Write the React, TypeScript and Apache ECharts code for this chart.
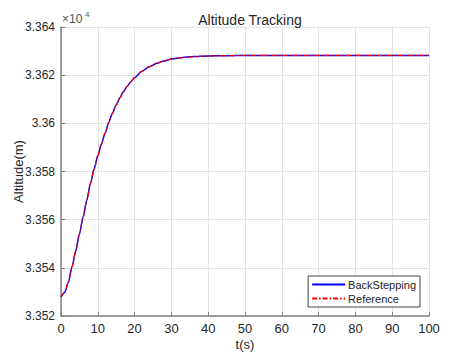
import React, { useEffect, useRef } from "react";
import * as echarts from "echarts";

const timeSeconds = [0, 1, 2, 3, 4, 5, 6, 7, 8, 9, 10, 11, 12, 13, 14, 15, 16, 17, 18, 19, 20, 22, 24, 26, 28, 30, 33, 36, 40, 45, 50, 60, 70, 80, 90, 100];
const backStepping = [33528, 33529.8, 33534, 33540.5, 33547, 33554, 33561, 33568, 33575, 33581, 33586.5, 33591.5, 33596, 33600.5, 33604.3, 33607.6, 33610.6, 33613.2, 33615.4, 33617.3, 33619, 33621.6, 33623.5, 33624.9, 33625.9, 33626.7, 33627.3, 33627.7, 33628, 33628.1, 33628.2, 33628.2, 33628.2, 33628.2, 33628.2, 33628.2];
const reference = [33528, 33529.8, 33534, 33540.5, 33547, 33554, 33561, 33568, 33575, 33581, 33586.5, 33591.5, 33596, 33600.5, 33604.3, 33607.6, 33610.6, 33613.2, 33615.4, 33617.3, 33619, 33621.6, 33623.5, 33624.9, 33625.9, 33626.7, 33627.3, 33627.7, 33628, 33628.1, 33628.2, 33628.2, 33628.2, 33628.2, 33628.2, 33628.2];

const FONT = "'Liberation Sans', Arial, sans-serif";
const TEXT = "#262626";

export default function App() {
  const ref = useRef<HTMLDivElement>(null);
  useEffect(() => {
    if (!ref.current) return;
    const chart = echarts.init(ref.current, null, { renderer: "svg" });
    const pair = (ys: number[]) => timeSeconds.map((t, i) => [t, ys[i]]);
    chart.setOption({
      animation: false,
      backgroundColor: "#ffffff",
      textStyle: { fontFamily: FONT },
      title: {
        text: "Altitude Tracking",
        left: 245,
        textAlign: "center",
        top: 8,
        textStyle: { fontSize: 14, fontWeight: "normal", color: TEXT, fontFamily: FONT },
      },
      grid: { left: 61, right: 45, top: 27, bottom: 39, containLabel: false, outerBoundsMode: "none" },
      legend: {
        orient: "vertical",
        right: 54,
        top: 276,
        itemWidth: 33,
        itemHeight: 12,
        itemGap: 3,
        padding: [3, 4, 3, 3],
        backgroundColor: "#ffffff",
        borderColor: "#444",
        borderWidth: 1,
        borderRadius: 0,
        itemStyle: { opacity: 0, borderWidth: 0 },
        textStyle: { fontSize: 11, color: TEXT, fontFamily: FONT, padding: [0, 0, 0, -2] },
        data: ["BackStepping", "Reference"],
      },
      xAxis: {
        type: "value",
        min: 0,
        max: 100,
        interval: 10,
        name: "t(s)",
        nameLocation: "middle",
        nameGap: 22,
        nameMoveOverlap: false,
        nameTextStyle: { fontSize: 13, color: TEXT, fontFamily: FONT },
        axisLine: { show: true, lineStyle: { color: "#808080", width: 1.5 } },
        axisTick: { show: true, inside: true, length: 4, lineStyle: { color: "#808080" } },
        axisLabel: { fontSize: 13, color: TEXT, margin: 6, fontFamily: FONT },
        splitLine: { show: true, lineStyle: { color: "#e3e3e3", width: 1 } },
      },
      yAxis: {
        type: "value",
        min: 33520,
        max: 33640,
        interval: 20,
        name: "Altitude(m)",
        nameLocation: "middle",
        nameGap: 36,
        nameMoveOverlap: false,
        nameTextStyle: { fontSize: 13, color: TEXT, fontFamily: FONT },
        axisLine: { show: true, lineStyle: { color: "#808080", width: 1.5 } },
        axisTick: { show: true, inside: true, length: 4, lineStyle: { color: "#808080" } },
        axisLabel: {
          fontSize: 12,
          color: TEXT,
          margin: 6,
          fontFamily: FONT,
          formatter: (v: number) => String(parseFloat((v / 1e4).toFixed(4))),
        },
        splitLine: { show: true, lineStyle: { color: "#e3e3e3", width: 1 } },
      },
      graphic: [
        { type: "text", left: 62, top: 13, style: { text: "×10", fontSize: 12, fill: "#555", fontFamily: FONT } },
        { type: "text", left: 85, top: 10, style: { text: "4", fontSize: 8, fill: "#555", fontFamily: FONT } },
      ],
      series: [
        {
          name: "BackStepping",
          type: "line",
          data: pair(backStepping),
          smooth: 0.25,
          smoothMonotone: "x",
          showSymbol: false,
          symbol: "none",
          lineStyle: { color: "#0000ff", width: 1.5 },
          itemStyle: { color: "#0000ff" },
        },
        {
          name: "Reference",
          type: "line",
          data: pair(reference),
          smooth: 0.25,
          smoothMonotone: "x",
          showSymbol: false,
          symbol: "none",
          lineStyle: { color: "#ff0000", width: 1.2, type: [5, 2, 1.5, 2] },
          itemStyle: { color: "#ff0000" },
        },
      ],
    });
    return () => chart.dispose();
  }, []);
  return <div ref={ref} style={{ width: 474, height: 355, position: "absolute", left: 0, top: 0 }} />;
}
